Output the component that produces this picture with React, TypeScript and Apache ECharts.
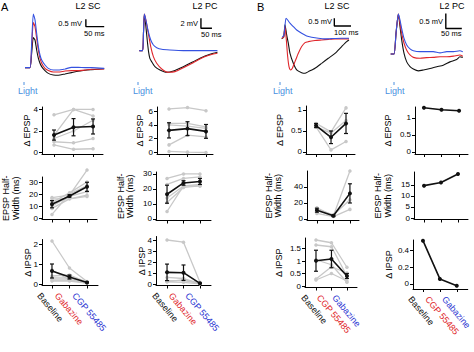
import React, { useEffect, useRef } from 'react';
import * as echarts from 'echarts';

const FONT = '"Liberation Sans", Arial, Helvetica, sans-serif';
const BLACK = '#111111';
const RED = '#e0262b';
const BLUE = '#2b35d2';
const TRACE_BLUE = '#3552e0';
const GRAY = '#c8c8c8';
const LIGHT = '#4a8fe0';

// ---------- categories ----------
const conditionsA = ['Baseline', 'Gabazine', 'CGP 55485'];
const conditionsB = ['Baseline', 'CGP 55485', 'Gabazine'];
const conditionColors = [BLACK, RED, BLUE];

// ---------- example traces [ms, mV] ----------
const traceA1Black = [[0,0],[13.6,0],[18.2,0.98],[22.7,2.04],[27.3,1.88],[31.8,1.2],[36.4,0.64],[40.9,0.3],[45.5,0.07],[54.5,-0.2],[63.6,-0.39],[77.3,-0.5],[90.9,-0.52],[109,-0.43],[127,-0.34],[145,-0.25],[164,-0.18],[182,-0.14],[216,-0.07]];
const traceA1Red = [[0,0],[13.6,0],[18.2,1.43],[22.7,3.06],[27.3,2.79],[31.8,2.0],[36.4,1.2],[40.9,0.64],[45.5,0.3],[54.5,-0.05],[63.6,-0.2],[77.3,-0.3],[90.9,-0.3],[109,-0.23],[127,-0.2],[145,-0.2],[164,-0.16],[182,-0.11],[216,-0.09]];
const traceA1Blue = [[0,0],[13.6,0],[18.2,1.66],[22.7,3.65],[27.3,3.25],[31.8,2.34],[36.4,1.43],[40.9,0.86],[45.5,0.52],[54.5,0.18],[63.6,-0.05],[77.3,-0.16],[90.9,-0.16],[109,-0.09],[127,0.02],[145,0.02],[164,0],[182,0],[216,-0.05]];

const traceA2Black = [[0,0],[15,0],[19,3.5],[23,7.33],[30,4.8],[36,2.13],[42,-0.2],[48,-1.53],[56,-2.2],[71,-3.2],[94,-3.87],[124,-4.33],[155,-4.07],[200,-3.2],[245,-2.2],[291,-1.2],[336,-0.53],[355,-0.33]];
const traceA2Red = [[0,0],[15,0],[19,3.5],[23,7.33],[30,6.13],[41,3.47],[52,0.8],[64,-1.2],[79,-2.53],[102,-3.67],[132,-4.33],[162,-4.2],[200,-3.4],[245,-2.4],[291,-1.33],[336,-0.67],[355,-0.53]];
const traceA2Blue = [[0,0],[15,0],[19,3.5],[23,7.33],[30,6.13],[41,3.8],[52,2.13],[64,1.13],[79,0.6],[102,0.27],[139,0.13],[200,0],[261,0],[355,0]];

const traceB1Black = [[0,-0.04],[12,0.07],[20,0.87],[30,0.22],[40,-0.33],[50,-0.98],[70,-1.63],[90,-2.06],[120,-2.24],[140,-2.28],[160,-2.17],[200,-1.95],[240,-1.63],[280,-1.3],[320,-0.98],[360,-0.54],[390,-0.22],[404,-0.11]];
const traceB1Red = [[0,0],[12,0.07],[20,0.76],[28,-0.11],[36,-1.19],[44,-1.84],[54,-2.06],[64,-1.95],[80,-1.52],[100,-0.98],[120,-0.54],[140,-0.28],[160,-0.22],[200,-0.15],[240,-0.11],[280,-0.07],[320,-0.04],[360,-0.04],[404,-0.04]];
const traceB1Blue = [[4,0.07],[14,0.22],[26,1.3],[36,1.19],[50,0.98],[70,0.76],[90,0.54],[120,0.33],[150,0.15],[180,0.07],[220,0],[260,-0.04],[300,-0.02],[360,0],[404,0]];

const traceB2Black = [[0,0],[10.4,0],[16.6,0.69],[23.9,1.33],[29.1,0.91],[34.3,0.47],[41.6,0.02],[50,-0.26],[60.3,-0.42],[70.7,-0.5],[86.3,-0.56],[102,-0.53],[123,-0.48],[144,-0.42],[164,-0.37],[185,-0.26],[206,-0.18],[216,-0.09],[225,-0.11]];
const traceB2Red = [[0,0],[10.4,0],[16.6,0.69],[23.9,1.33],[29.1,1.02],[34.3,0.69],[41.6,0.36],[50,0.13],[60.3,-0.03],[70.7,-0.11],[91.5,-0.14],[112,-0.12],[133,-0.11],[154,-0.09],[175,-0.09],[196,-0.07],[216,-0.03],[225,-0.07]];
const traceB2Blue = [[0,0],[10.4,0],[16.6,0.69],[23.9,1.33],[29.1,1.13],[34.3,0.85],[41.6,0.52],[50,0.3],[60.3,0.17],[70.7,0.11],[91.5,0.08],[112,0.08],[133,0.08],[154,0.04],[175,0.08],[196,0.08],[216,0.11],[225,0.08]];

// scale bars [ms, mV]
const scaleBarA1 = [[166,3.29],[166,2.79],[216,2.79]];
const scaleBarA2 = [[280,6.47],[280,4.47],[330,4.47]];
const scaleBarB1 = [[316,1.30],[316,0.80],[416,0.80]];
const scaleBarB2 = [[172,1.35],[172,0.85],[222,0.85]];

// ---------- summary data ----------
const epspA_SC_cells = [[3.5,4.0,4.0],[1.6,4.0,3.4],[1.3,2.0,3.0],[1.0,0.9,1.3],[0.7,0.3,0.35]];
const epspA_SC_mean = [1.62,2.35,2.42];
const epspA_SC_sem = [0.47,0.8,0.7];
const epspA_PC_cells = [[6.3,6.5,6.05],[4.2,4.2,3.7],[4.0,3.8,3.5],[1.1,2.5,2.25],[0.15,0.05,0]];
const epspA_PC_mean = [3.2,3.45,3.05];
const epspA_PC_sem = [1.1,1.0,1.0];
const epspB_SC_cells = [[0.68,0.48,1.05],[0.6,0.45,0.75],[0.6,0.05,0.25]];
const epspB_SC_mean = [0.63,0.35,0.68];
const epspB_SC_sem = [0.05,0.15,0.24];
const epspB_PC = [1.3,1.24,1.21];

const hwA_SC_cells = [[17,19,40],[13,21,30],[10,18,22],[8,16,18],[3,20,27],[16,16,19]];
const hwA_SC_mean = [11.5,18.4,26];
const hwA_SC_sem = [3.0,1.0,3.8];
const hwA_PC_cells = [[27,30,30],[23,27,28],[14,22,22],[11,21,22],[5,22,23]];
const hwA_PC_mean = [16.5,24,25];
const hwA_PC_sem = [6,1.5,2];
const hwB_SC_cells = [[14,4,60],[12,5,24],[7,3,12]];
const hwB_SC_mean = [11,4,32];
const hwB_SC_sem = [2.5,1,12];
const hwB_PC = [14.7,16.1,20];

const ipspA_SC_cells = [[2.15,0.8,0.12],[0.4,0.45,0.1],[0.3,0.3,0.08],[0.2,0.2,0.05],[0.15,0.15,0.05],[0.7,0.2,0.08]];
const ipspA_SC_mean = [0.65,0.35,0.08];
const ipspA_SC_sem = [0.35,0.1,0.02];
const ipspA_PC_cells = [[4.0,3.8,0.15],[0.6,0.5,0.05],[0.3,0.3,0.05],[0.2,0.15,0.02],[0.2,0.4,0.05]];
const ipspA_PC_mean = [1.06,1.03,0.06];
const ipspA_PC_sem = [0.75,0.7,0.03];
const ipspB_SC_cells = [[1.84,1.73,0.75],[1.64,1.57,0.4],[0.28,0.77,0.52],[0.24,0.5,0.2],[1.05,0.85,0.15]];
const ipspB_SC_mean = [1.01,1.08,0.4];
const ipspB_SC_sem = [0.42,0.35,0.1];
const ipspB_PC = [0.51,0.06,-0.02];

// tick values
const ticksEpspA_SC = [0,2,4];
const ticksEpspA_PC = [0,2,4,6];
const ticksEpspB = [0,0.5,1];
const ticksHwA = [0,10,20,30];
const ticksHwB_SC = [0,20,40];
const ticksHwB_PC = [0,5,10,15];
const ticksIpspA_SC = [0,1,2];
const ticksIpspA_PC = [0,1,2,3,4];
const ticksIpspB_SC = [0,0.5,1,1.5];
const ticksIpspB_PC = [0,0.2,0.4];

const NAME_EPSP = '\u0394 EPSP';
const NAME_HW = 'EPSP Half-\nWidth (ms)';
const NAME_IPSP = '\u0394 IPSP';

function buildOption() {
  const grids: any[] = [];
  const xAxes: any[] = [];
  const yAxes: any[] = [];
  const series: any[] = [];

  const addTrace = (L: any, traces: [number[][], string][], bar: number[][]) => {
    const gi = grids.length;
    grids.push({ left: L.left, top: L.top, width: L.width, height: L.height });
    xAxes.push({ type: 'value', gridIndex: gi, min: L.xMin, max: L.xMax, show: false });
    yAxes.push({ type: 'value', gridIndex: gi, min: L.yMin, max: L.yMax, show: false });
    traces.forEach(([data, color]) => {
      series.push({ type: 'line', xAxisIndex: gi, yAxisIndex: gi, data, symbol: 'none', smooth: 0.2,
        lineStyle: { color, width: 1.1 }, silent: true, clip: false });
    });
    series.push({ type: 'line', xAxisIndex: gi, yAxisIndex: gi, data: bar, symbol: 'none',
      lineStyle: { color: '#000', width: 1.4 }, silent: true, clip: false });
  };

  const addStat = (L: any, name: string, ticks: number[], cats: string[] | null,
    cells: number[][] | null, mean: number[], sem: number[] | null) => {
    const gi = grids.length;
    grids.push({ left: L.left, top: L.top, width: L.width, height: L.height });
    xAxes.push({
      type: 'value', gridIndex: gi, min: L.xMin, max: L.xMax,
      splitLine: { show: false },
      axisLine: { show: true, onZero: false, lineStyle: { color: '#000', width: 1 } },
      axisTick: { show: true, customValues: [0, 1, 2], length: 3, lineStyle: { color: '#000' } },
      axisLabel: cats ? {
        show: true, customValues: [0, 1, 2], rotate: -50, margin: 3,
        verticalAlign: 'top', padding: [9, 0, 0, -4],
        formatter: (v: number) => { const i = Math.round(v); return `{c${i}|${cats[i]}}`; },
        rich: {
          c0: { color: conditionColors[0], fontSize: 9, fontFamily: FONT },
          c1: { color: conditionColors[1], fontSize: 9, fontFamily: FONT },
          c2: { color: conditionColors[2], fontSize: 9, fontFamily: FONT },
        },
      } : { show: false },
    });
    yAxes.push({
      type: 'value', gridIndex: gi, min: L.yMin, max: L.yMax,
      name, nameLocation: 'middle', nameRotate: 90, nameGap: L.nameGap, nameMoveOverlap: false,
      nameTextStyle: { fontSize: 9, color: '#000', fontFamily: FONT, lineHeight: 9.5 },
      splitLine: { show: false },
      axisLine: { show: true, onZero: false, lineStyle: { color: '#000', width: 1 } },
      axisTick: { show: true, customValues: ticks, length: 3, lineStyle: { color: '#000' } },
      axisLabel: { customValues: ticks, fontSize: 8, margin: 4, color: '#000', fontFamily: FONT },
    });
    if (cells) {
      cells.forEach((c) => {
        series.push({ type: 'line', xAxisIndex: gi, yAxisIndex: gi, data: c.map((v, i) => [i, v]),
          symbol: 'circle', symbolSize: 3.5, itemStyle: { color: GRAY },
          lineStyle: { color: GRAY, width: 1.3 }, clip: false, silent: true, z: 1 });
      });
    }
    series.push({ type: 'line', xAxisIndex: gi, yAxisIndex: gi, data: mean.map((v, i) => [i, v]),
      symbol: 'circle', symbolSize: 4, itemStyle: { color: BLACK },
      lineStyle: { color: BLACK, width: 1.6 }, clip: false, silent: true, z: 3 });
    if (sem) {
      series.push({
        type: 'custom', xAxisIndex: gi, yAxisIndex: gi, silent: true, z: 4, clip: false,
        data: mean.map((m, i) => [i, m - sem[i], m + sem[i]]),
        encode: { x: 0, y: [1, 2] },
        renderItem: (params: any, api: any) => {
          const x = api.value(0);
          const lo = api.coord([x, api.value(1)]);
          const hi = api.coord([x, api.value(2)]);
          const w = 2;
          const st = { stroke: BLACK, lineWidth: 1.2 };
          return {
            type: 'group', children: [
              { type: 'line', shape: { x1: lo[0], y1: lo[1], x2: hi[0], y2: hi[1] }, style: st },
              { type: 'line', shape: { x1: lo[0] - w, y1: lo[1], x2: lo[0] + w, y2: lo[1] }, style: st },
              { type: 'line', shape: { x1: hi[0] - w, y1: hi[1], x2: hi[0] + w, y2: hi[1] }, style: st },
            ],
          };
        },
      });
    }
  };

  // trace panels
  addTrace({ left: 20, top: 0, width: 90, height: 85, xMin: -13.6, xMax: 231.8, yMin: -1.18, yMax: 4.6 },
    [[traceA1Black, BLACK], [traceA1Red, RED], [traceA1Blue, TRACE_BLUE]], scaleBarA1);
  addTrace({ left: 135, top: 0, width: 95, height: 85, xMin: -19.5, xMax: 412, yMin: -6.87, yMax: 10.13 },
    [[traceA2Black, BLACK], [traceA2Red, RED], [traceA2Blue, TRACE_BLUE]], scaleBarA2);
  addTrace({ left: 275, top: 0, width: 110, height: 85, xMin: -40, xMax: 620, yMin: -3.04, yMax: 2.49 },
    [[traceB1Black, BLACK], [traceB1Red, RED], [traceB1Blue, TRACE_BLUE]], scaleBarB1);
  addTrace({ left: 380, top: 0, width: 94, height: 85, xMin: -33.4, xMax: 260, yMin: -1.03, yMax: 1.8 },
    [[traceB2Black, BLACK], [traceB2Red, RED], [traceB2Blue, TRACE_BLUE]], scaleBarB2);

  // row 1: delta EPSP
  addStat({ left: 42, top: 107, width: 61, height: 47, xMin: -0.615, xMax: 2.51, yMin: -0.14, yMax: 4.23, nameGap: 10 },
    NAME_EPSP, ticksEpspA_SC, null, epspA_SC_cells, epspA_SC_mean, epspA_SC_sem);
  addStat({ left: 157, top: 107, width: 56, height: 47, xMin: -0.65, xMax: 2.38, yMin: -0.22, yMax: 6.58, nameGap: 12.5 },
    NAME_EPSP, ticksEpspA_PC, null, epspA_PC_cells, epspA_PC_mean, epspA_PC_sem);
  addStat({ left: 306, top: 106, width: 49, height: 48, xMin: -0.67, xMax: 2.6, yMin: -0.048, yMax: 1.095, nameGap: 21.5 },
    NAME_EPSP, ticksEpspB, null, epspB_SC_cells, epspB_SC_mean, epspB_SC_sem);
  addStat({ left: 415, top: 107, width: 53, height: 47, xMin: -0.51, xMax: 2.51, yMin: -0.06, yMax: 1.32, nameGap: 22 },
    NAME_EPSP, ticksEpspB, null, null, epspB_PC, null);

  // row 2: half-width
  addStat({ left: 42, top: 177, width: 55, height: 42.5, xMin: -0.57, xMax: 2.57, yMin: -1.25, yMax: 34.2, nameGap: 21.5 },
    NAME_HW, ticksHwA, null, hwA_SC_cells, hwA_SC_mean, hwA_SC_sem);
  addStat({ left: 156, top: 172, width: 55, height: 48.5, xMin: -0.67, xMax: 2.67, yMin: -1, yMax: 31.3, nameGap: 21 },
    NAME_HW, ticksHwA, null, hwA_PC_cells, hwA_PC_mean, hwA_PC_sem);
  addStat({ left: 307, top: 171, width: 52, height: 49.5, xMin: -0.6, xMax: 2.55, yMin: -1.9, yMax: 60, nameGap: 24 },
    NAME_HW, ticksHwB_SC, null, hwB_SC_cells, hwB_SC_mean, hwB_SC_sem);
  addStat({ left: 414, top: 172, width: 54, height: 47.5, xMin: -0.59, xMax: 2.59, yMin: -0.68, yMax: 20.9, nameGap: 21.5 },
    NAME_HW, ticksHwB_PC, null, null, hwB_PC, null);

  // row 3: delta IPSP
  addStat({ left: 42, top: 239.5, width: 56, height: 46, xMin: -0.57, xMax: 2.63, yMin: -0.075, yMax: 2.225, nameGap: 9 },
    NAME_IPSP, ticksIpspA_SC, conditionsA, ipspA_SC_cells, ipspA_SC_mean, ipspA_SC_sem);
  addStat({ left: 156, top: 236.5, width: 55, height: 49, xMin: -0.67, xMax: 2.67, yMin: -0.136, yMax: 4.32, nameGap: 9.5 },
    NAME_IPSP, ticksIpspA_PC, conditionsA, ipspA_PC_cells, ipspA_PC_mean, ipspA_PC_sem);
  addStat({ left: 305, top: 238, width: 52, height: 49.5, xMin: -0.71, xMax: 2.65, yMin: -0.06, yMax: 1.92, nameGap: 21.5 },
    NAME_IPSP, ticksIpspB_SC, conditionsB, ipspB_SC_cells, ipspB_SC_mean, ipspB_SC_sem);
  addStat({ left: 413, top: 240, width: 55, height: 49, xMin: -0.59, xMax: 2.65, yMin: -0.059, yMax: 0.518, nameGap: 19 },
    NAME_IPSP, ticksIpspB_PC, conditionsB, null, ipspB_PC, null);

  const txt = (x: number, y: number, text: string, size: number, fill: string, align = 'left') => ({
    type: 'text', x, y, silent: true,
    style: { text, fontSize: size, fill, fontFamily: FONT, align, verticalAlign: 'middle' },
  });
  const tick = (x: number) => ({
    type: 'line', silent: true, shape: { x1: x, y1: 82, x2: x, y2: 85 }, style: { stroke: LIGHT, lineWidth: 1 },
  });

  const graphic = [
    txt(1, 7, 'A', 11, '#000'),
    txt(257, 7, 'B', 11, '#000'),
    txt(88, 5.5, 'L2 SC', 9, '#000', 'center'),
    txt(205, 5.5, 'L2 PC', 9, '#000', 'center'),
    txt(337, 5.5, 'L2 SC', 9, '#000', 'center'),
    txt(452, 5.5, 'L2 PC', 9, '#000', 'center'),
    txt(82, 23, '0.5 mV', 7.5, '#000', 'right'),
    txt(84, 33, '50 ms', 7.5, '#000'),
    txt(198, 23, '2 mV', 7.5, '#000', 'right'),
    txt(201, 34, '50 ms', 7.5, '#000'),
    txt(332, 21, '0.5 mV', 7.5, '#000', 'right'),
    txt(334, 32, '100 ms', 7.5, '#000'),
    txt(443, 21, '0.5 mV', 7.5, '#000', 'right'),
    txt(441, 33, '50 ms', 7.5, '#000'),
    txt(18, 91, 'Light', 9, LIGHT),
    txt(133, 91, 'Light', 9, LIGHT),
    txt(273, 91, 'Light', 9, LIGHT),
    txt(385, 91, 'Light', 9, LIGHT),
    tick(24), tick(138), tick(280), tick(394),
  ];

  return {
    animation: false,
    backgroundColor: '#ffffff',
    textStyle: { fontFamily: FONT },
    grid: grids,
    xAxis: xAxes,
    yAxis: yAxes,
    series,
    graphic,
  };
}

export default function App() {
  const ref = useRef<HTMLDivElement>(null);
  useEffect(() => {
    if (!ref.current) return;
    const chart = echarts.init(ref.current, undefined, { renderer: 'svg' });
    chart.setOption(buildOption() as any);
    return () => chart.dispose();
  }, []);
  return (
    <div
      ref={ref}
      style={{ position: 'fixed', left: 0, top: 0, width: 474, height: 352, background: '#fff' }}
    />
  );
}
